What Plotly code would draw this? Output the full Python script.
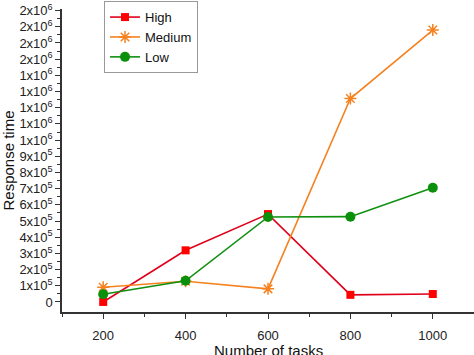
import plotly.graph_objects as go

tasks = [200, 400, 600, 800, 1000]
high = [0, 3.19e5, 5.43e5, 0.44e5, 0.49e5]
medium = [0.91e5, 1.28e5, 0.81e5, 12.57e5, 16.8e5]
low = [0.48e5, 1.31e5, 5.25e5, 5.27e5, 7.06e5]

y_tickvals = [i * 1e5 for i in range(19)]
y_ticktext = ["0"] + [f"{i}x10<sup>5</sup>" for i in range(1, 10)] + \
    ["1x10<sup>6</sup>"] * 5 + ["2x10<sup>6</sup>"] * 4
x_tickvals = [200, 400, 600, 800, 1000]

fig = go.Figure()
fig.add_trace(go.Scatter(x=tasks, y=high, name="High", mode="lines+markers",
                         line=dict(color="#e0001b", width=1.6),
                         marker=dict(symbol="square", size=8, color="#ff0000")))
fig.add_trace(go.Scatter(x=tasks, y=medium, name="Medium", mode="lines+markers",
                         line=dict(color="#f5821f", width=1.6),
                         marker=dict(symbol="asterisk-open", size=10, color="#f5821f",
                                     line=dict(color="#f5821f", width=1.5))))
fig.add_trace(go.Scatter(x=tasks, y=low, name="Low", mode="lines+markers",
                         line=dict(color="#109010", width=1.6),
                         marker=dict(symbol="circle", size=10, color="#0a900a")))

axis_common = dict(showgrid=False, zeroline=False, showline=True, linecolor="#333",
                   linewidth=1.5, ticks="outside", tickcolor="#333", tickwidth=1.2,
                   ticklen=5, automargin=False,
                   tickfont=dict(family="Liberation Sans, Arial", size=13, color="#222"))

fig.update_xaxes(range=[100, 1100], tickvals=x_tickvals, ticklabelstandoff=6,
                 minor=dict(tickvals=[100, 300, 500, 700, 900, 1100], ticks="outside",
                            ticklen=3, tickcolor="#333", tickwidth=1.2),
                 **axis_common)
fig.update_yaxes(range=[-0.62e5, 18.1e5], tickvals=y_tickvals, ticktext=y_ticktext,
                 minor=dict(tickvals=[i * 1e5 + 0.5e5 for i in range(18)], ticks="outside",
                            ticklen=3, tickcolor="#333", tickwidth=1.2),
                 **axis_common)

title_font = dict(family="Liberation Sans, Arial", size=15, color="#111")
fig.add_annotation(text="Number of tasks", xref="paper", yref="paper",
                   x=0.5, y=-0.162, xanchor="center", yanchor="bottom",
                   showarrow=False, font=title_font)
fig.add_annotation(text="Response time", xref="paper", yref="paper",
                   x=-0.131, y=0.5, xanchor="center", yanchor="middle",
                   textangle=-90, showarrow=False, font=title_font)

fig.update_layout(
    width=474, height=355,
    margin=dict(l=62, r=0, t=9, b=43),
    plot_bgcolor="white", paper_bgcolor="white",
    showlegend=True,
    legend=dict(x=0.102, y=1.026, xanchor="left", yanchor="top",
                bordercolor="#999", borderwidth=1, bgcolor="white",
                font=dict(family="Liberation Sans, Arial", size=13, color="#111"),
                tracegroupgap=0, itemwidth=30),
)

fig.write_html("out.html", config={"displayModeBar": False},
               post_script="document.body.style.margin='0';")
